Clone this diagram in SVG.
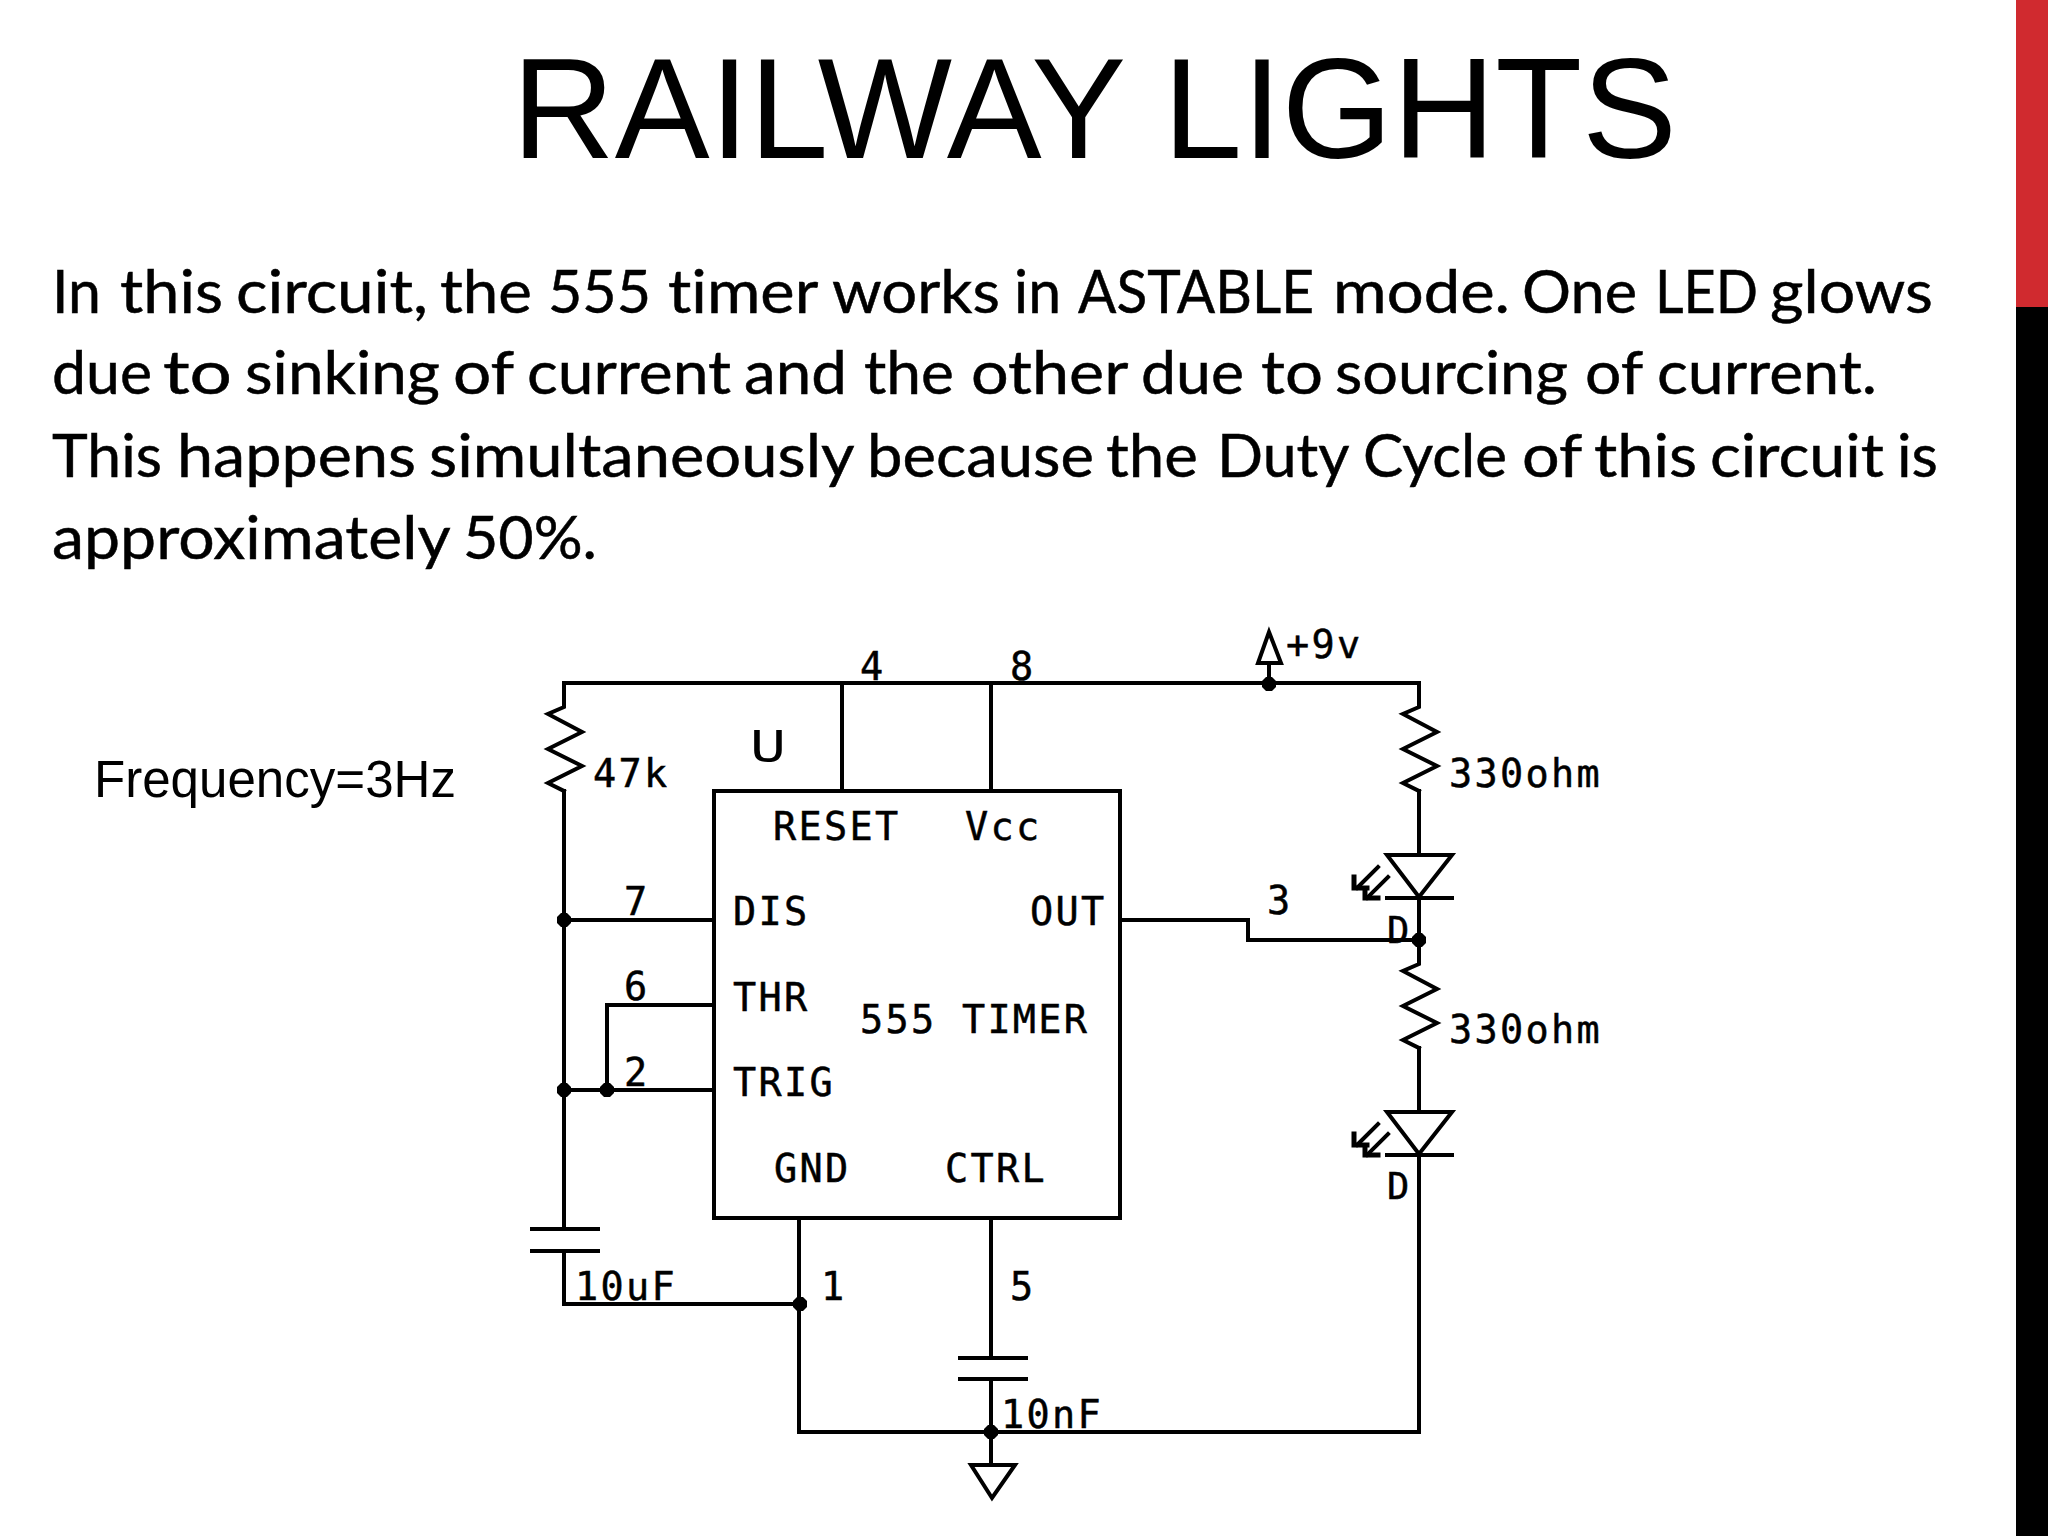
<svg xmlns="http://www.w3.org/2000/svg" width="2048" height="1536" viewBox="0 0 2048 1536">
<style>
.title{font-family:"Liberation Sans",Arial,sans-serif;font-size:142.3px;fill:#000}
.body{font-family:Lato,"Open Sans",sans-serif;font-size:60px;fill:#000;stroke:#000;stroke-width:.5;font-variant-ligatures:none}
.note{font-family:"Liberation Sans",Arial,sans-serif;font-size:51px;fill:#000}
.m{font-family:"DejaVu Sans Mono","Liberation Mono",monospace;font-size:38.5px;letter-spacing:2.3px;fill:#000;stroke:#000;stroke-width:.5}
.w{fill:none;stroke:#000;stroke-width:4;stroke-linejoin:miter;stroke-linecap:square}
.j{fill:#000}
</style>
<defs>
<polyline id="zig" class="w" points="0,0 0,24 -16,31 18,49 -16,66 18,83 -16,100 0,108"/>
<polygon id="dot" class="j" points="-3,-7 3,-7 7,-3 7,3 3,7 -3,7 -7,3 -7,-3"/>
<g id="ledsym">
<path class="w" d="M-32,0H33L0,42ZM-32,43H33"/>
<path class="w" d="M-41,12L-62,33M-31,22L-52,43" stroke-linecap="butt"/>
<path class="w" d="M-65,22V33H-52M-54,33V43H-41" style="stroke-width:5"/>
</g>
</defs>
<g id="sidebar">
<rect x="2016" y="0" width="32" height="307" fill="#d02a2f"/>
<rect x="2016" y="307" width="32" height="1229" fill="#000"/>
</g>
<g id="heading"><text class="title" x="512" y="158">RAILWAY LIGHTS</text></g>
<g id="description">
<text class="body" y="313"><tspan x="52" textLength="49" lengthAdjust="spacingAndGlyphs">In</tspan> <tspan x="120" textLength="103" lengthAdjust="spacingAndGlyphs">this</tspan> <tspan x="236" textLength="192" lengthAdjust="spacingAndGlyphs">circuit,</tspan> <tspan x="440" textLength="92" lengthAdjust="spacingAndGlyphs">the</tspan> <tspan x="548" textLength="103" lengthAdjust="spacingAndGlyphs">555</tspan> <tspan x="668" textLength="149" lengthAdjust="spacingAndGlyphs">timer</tspan> <tspan x="832" textLength="168" lengthAdjust="spacingAndGlyphs">works</tspan> <tspan x="1014" textLength="47" lengthAdjust="spacingAndGlyphs">in</tspan> <tspan x="1078" textLength="236" lengthAdjust="spacingAndGlyphs">ASTABLE</tspan> <tspan x="1333" textLength="177" lengthAdjust="spacingAndGlyphs">mode.</tspan> <tspan x="1522" textLength="115" lengthAdjust="spacingAndGlyphs">One</tspan> <tspan x="1655" textLength="103" lengthAdjust="spacingAndGlyphs">LED</tspan> <tspan x="1770" textLength="163" lengthAdjust="spacingAndGlyphs">glows</tspan></text>
<text class="body" y="394"><tspan x="52" textLength="100" lengthAdjust="spacingAndGlyphs">due</tspan> <tspan x="163" textLength="69" lengthAdjust="spacingAndGlyphs">to</tspan> <tspan x="245" textLength="195" lengthAdjust="spacingAndGlyphs">sinking</tspan> <tspan x="453" textLength="60" lengthAdjust="spacingAndGlyphs">of</tspan> <tspan x="527" textLength="204" lengthAdjust="spacingAndGlyphs">current</tspan> <tspan x="744" textLength="103" lengthAdjust="spacingAndGlyphs">and</tspan> <tspan x="864" textLength="90" lengthAdjust="spacingAndGlyphs">the</tspan> <tspan x="971" textLength="156" lengthAdjust="spacingAndGlyphs">other</tspan> <tspan x="1141" textLength="103" lengthAdjust="spacingAndGlyphs">due</tspan> <tspan x="1261" textLength="62" lengthAdjust="spacingAndGlyphs">to</tspan> <tspan x="1335" textLength="233" lengthAdjust="spacingAndGlyphs">sourcing</tspan> <tspan x="1585" textLength="57" lengthAdjust="spacingAndGlyphs">of</tspan> <tspan x="1657" textLength="220" lengthAdjust="spacingAndGlyphs">current.</tspan></text>
<text class="body" y="477"><tspan x="52" textLength="110" lengthAdjust="spacingAndGlyphs">This</tspan> <tspan x="177" textLength="239" lengthAdjust="spacingAndGlyphs">happens</tspan> <tspan x="429" textLength="424" lengthAdjust="spacingAndGlyphs">simultaneously</tspan> <tspan x="867" textLength="227" lengthAdjust="spacingAndGlyphs">because</tspan> <tspan x="1106" textLength="92" lengthAdjust="spacingAndGlyphs">the</tspan> <tspan x="1217" textLength="131" lengthAdjust="spacingAndGlyphs">Duty</tspan> <tspan x="1363" textLength="144" lengthAdjust="spacingAndGlyphs">Cycle</tspan> <tspan x="1522" textLength="59" lengthAdjust="spacingAndGlyphs">of</tspan> <tspan x="1594" textLength="103" lengthAdjust="spacingAndGlyphs">this</tspan> <tspan x="1710" textLength="174" lengthAdjust="spacingAndGlyphs">circuit</tspan> <tspan x="1897" textLength="41" lengthAdjust="spacingAndGlyphs">is</tspan></text>
<text class="body" y="559"><tspan x="52" textLength="397" lengthAdjust="spacingAndGlyphs">approximately</tspan> <tspan x="463" textLength="134" lengthAdjust="spacingAndGlyphs">50%.</tspan></text>
</g>
<g id="frequency"><text class="note" x="94" y="797" textLength="362" lengthAdjust="spacingAndGlyphs">Frequency=3Hz</text></g>
<g id="connectors">
<path class="w" d="M564,791V1229M564,1251V1304H799M564,683H1419M842,683V791M991,683V791"/>
<path class="w" d="M564,920H714M607,1090V1005H714M564,1090H714"/>
<path class="w" d="M1120,920H1248V940H1419M1419,791V855M1419,898V940"/>
<path class="w" d="M1419,1048V1112M1419,1155V1432H799V1218M991,1218V1358M991,1379V1465"/>
<path class="w" d="M1269,683V663"/>
</g>
<g id="junctions">
<use href="#dot" x="564" y="920"/>
<use href="#dot" x="564" y="1090"/>
<use href="#dot" x="607" y="1090"/>
<use href="#dot" x="800" y="1304"/>
<use href="#dot" x="991" y="1432"/>
<use href="#dot" x="1269" y="684"/>
<use href="#dot" x="1419" y="940"/>
</g>
<g id="ic555">
<rect class="w" x="714" y="791" width="406" height="427"/>
<text class="m" x="773" y="840">RESET</text>
<text class="m" x="965" y="840">Vcc</text>
<text class="m" x="733" y="925">DIS</text>
<text class="m" x="1030" y="925">OUT</text>
<text class="m" x="733" y="1011">THR</text>
<text class="m" x="860" y="1033">555 TIMER</text>
<text class="m" x="733" y="1096">TRIG</text>
<text class="m" x="774" y="1182">GND</text>
<text class="m" x="945" y="1182">CTRL</text>
<text class="m" x="750" y="762" style="font-size:48px;letter-spacing:0;stroke:none;font-family:'Liberation Mono',monospace" textLength="36" lengthAdjust="spacingAndGlyphs">U</text>
</g>
<g id="pins">
<text class="m" x="860" y="680">4</text>
<text class="m" x="1010" y="680">8</text>
<text class="m" x="624" y="915">7</text>
<text class="m" x="624" y="1000">6</text>
<text class="m" x="624" y="1086">2</text>
<text class="m" x="821" y="1300">1</text>
<text class="m" x="1010" y="1300">5</text>
<text class="m" x="1267" y="914">3</text>
</g>
<g id="r1"><use href="#zig" x="564" y="683"/><text class="m" x="593" y="787">47k</text></g>
<g id="r2"><use href="#zig" x="1419" y="683"/><text class="m" x="1449" y="787">330ohm</text></g>
<g id="r3"><use href="#zig" x="1419" y="940"/><text class="m" x="1449" y="1043">330ohm</text></g>
<g id="c1"><path class="w" d="M532,1229H598M532,1251H598" stroke-linecap="butt"/><text class="m" x="575" y="1300">10uF</text></g>
<g id="c2"><path class="w" d="M960,1358H1026M960,1379H1026" stroke-linecap="butt"/><text class="m" x="1001" y="1428">10nF</text></g>
<g id="led1"><use href="#ledsym" x="1419" y="855"/><text class="m" x="1387" y="943" style="font-size:37px">D</text></g>
<g id="led2"><use href="#ledsym" x="1419" y="1112"/><text class="m" x="1387" y="1199" style="font-size:37px">D</text></g>
<g id="vcc"><path class="w" d="M1258,663H1281L1269,632Z"/><text class="m" x="1286" y="658">+9v</text></g>
<g id="gnd"><path class="w" d="M971,1465H1015L992,1498Z"/></g>
</svg>
